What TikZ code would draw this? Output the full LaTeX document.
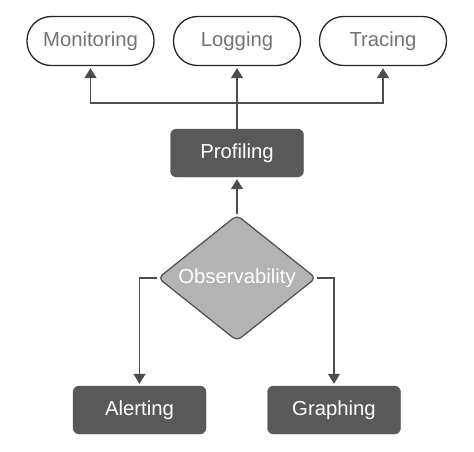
\documentclass[tikz,border=0pt]{standalone}
\usepackage{fontspec}
\setmainfont{Liberation Sans}
\usetikzlibrary{shapes.geometric,arrows.meta}
\definecolor{darkbox}{HTML}{595959}
\definecolor{linegray}{HTML}{4D4D4D}
\definecolor{diamfill}{HTML}{B3B3B3}
\definecolor{pilltext}{HTML}{737373}
\begin{document}
\begin{tikzpicture}[x=1pt,y=-1pt,
  lbl/.style={font=\fontsize{20.3}{22}\selectfont},
  pill/.style={lbl,draw=black!85,line width=1.3pt,fill=white,rounded corners=24pt,
    minimum width=127pt,minimum height=49pt,inner sep=0pt,text=pilltext},
  darkbox/.style={lbl,draw=darkbox,fill=darkbox,rounded corners=6pt,
    minimum width=133pt,minimum height=48pt,inner sep=0pt,text=white},
  decide/.style={lbl,diamond,aspect=1.25,draw=linegray,line width=1.2pt,fill=diamfill,rounded corners=5pt,
    minimum width=158pt,minimum height=126pt,inner sep=0pt,text=white},
  conn/.style={draw=linegray,line width=1.4pt,-{Triangle[width=12pt,length=10pt]},shorten >=2pt}]
\useasboundingbox (0,0) rectangle (474,451);
\node[pill] (mon) at (90.5,41) {Monitoring};
\node[pill] (log) at (237,41) {Logging};
\node[pill] (tra) at (383,41) {Tracing};
\node[darkbox] (prof) at (237,153) {Profiling};
\node[decide] (obs) at (237,278) {Observability};
\node[darkbox] (alert) at (139.5,410) {Alerting};
\node[darkbox] (graph) at (334,410) {Graphing};
\coordinate (j) at (237,103);
\draw[conn] (prof.north) -- (log.south);
\draw[conn] (j) -| (mon.south);
\draw[conn] (j) -| (tra.south);
\draw[conn] (obs.north) -- (prof.south);
\draw[conn] (obs.west) -| (alert.north);
\draw[conn] (obs.east) -| (graph.north);
\end{tikzpicture}
\end{document}
